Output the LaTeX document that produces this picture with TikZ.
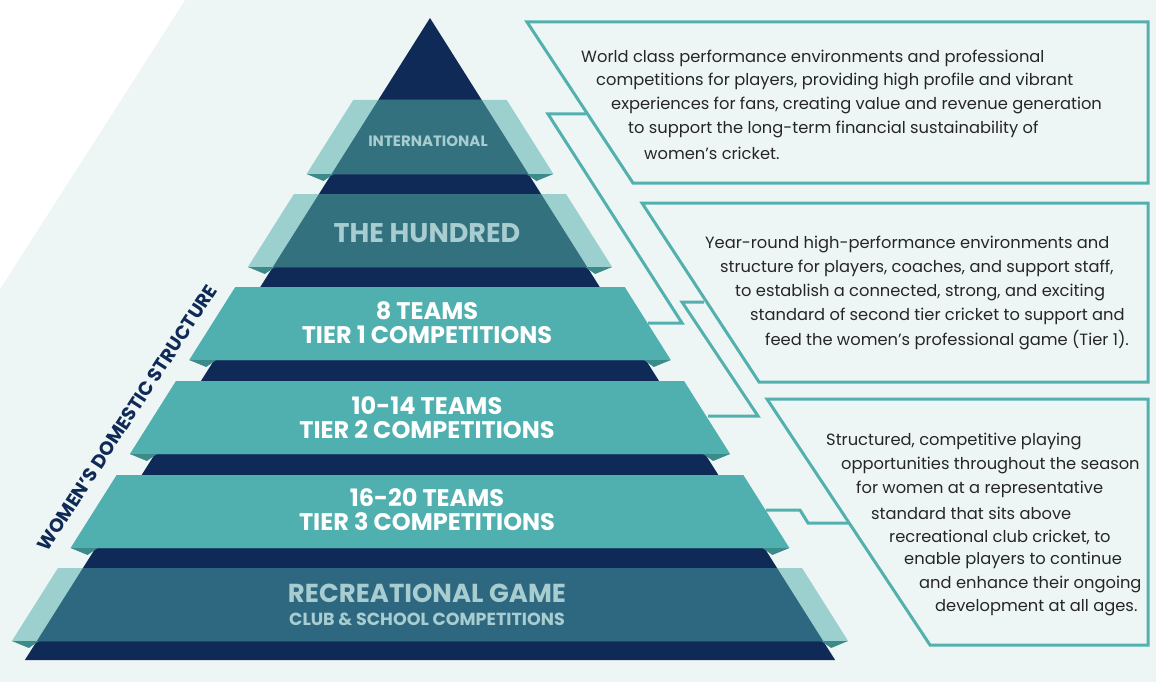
\documentclass[tikz,border=0pt]{standalone}
\usepackage{fontspec}
\setmainfont{Poppins}
\begin{document}
\begin{tikzpicture}[x=1pt,y=-1pt,
  body/.style={anchor=west,font=\fontsize{16.3}{18}\selectfont,text=black!85,inner sep=0},
  tier/.style={font=\bfseries\fontsize{24}{24}\selectfont,text=white,align=center,inner sep=0},
  pale/.style={font=\bfseries,text=paletxt,align=center,inner sep=0},
  outl/.style={draw=boxline,line width=3pt,line join=miter}]
\definecolor{bg}{HTML}{EEF6F5}
\definecolor{navy}{HTML}{0F2A57}
\definecolor{light}{HTML}{9BD0CE}
\definecolor{teal}{HTML}{50AFAF}
\definecolor{dteal}{HTML}{33717F}
\definecolor{rteal}{HTML}{2E6780}
\definecolor{fold}{HTML}{3D8A8A}
\definecolor{boxline}{HTML}{52B0AF}
\definecolor{paletxt}{HTML}{A8CDD0}
\useasboundingbox (0,0) rectangle (1156,682);
\fill[bg] (0,0) rectangle (1156,682);
\fill[white] (0,0) -- (185,0) -- (0,289) -- cycle;
% pyramid
\fill[navy] (430,18) -- ({430+0.631*642},660) -- ({430-0.631*642},660) -- cycle;
\newcommand\myband[4]{% top, bottom, outer fill, inner fill
  \fill[#3] ({430-0.631*(#1-18)-25},#1) -- ({430+0.631*(#1-18)+25},#1) -- ({430+0.631*(#2-18)+25},#2) -- ({430-0.631*(#2-18)-25},#2) -- cycle;
  \fill[#4] ({430-0.631*(#1-18)},#1) -- ({430+0.631*(#1-18)},#1) -- ({430+0.631*(#2-18)},#2) -- ({430-0.631*(#2-18)},#2) -- cycle;
  \fill[fold] ({430-0.631*(#2-18)-25},#2) -- ({430-0.631*(#2-18)+2},#2) -- ({430-0.631*(#2-18)-8},#2+7) -- cycle;
  \fill[fold] ({430+0.631*(#2-18)+25},#2) -- ({430+0.631*(#2-18)-2},#2) -- ({430+0.631*(#2-18)+8},#2+7) -- cycle;
}
\myband{100}{174}{light}{dteal}
\myband{194}{267}{light}{dteal}
\myband{287}{360}{teal}{teal}
\myband{381}{454}{teal}{teal}
\myband{475}{548}{teal}{teal}
\myband{568}{641}{light}{rteal}
% pyramid labels
\node[pale,font=\bfseries\fontsize{15}{16}\selectfont] (int) at (428,141) {INTERNATIONAL};
\node[pale,font=\bfseries\fontsize{27}{28}\selectfont] (hun) at (427,233) {THE HUNDRED};
\node[tier] (t1) at (427,323) {8 TEAMS\\TIER 1 COMPETITIONS};
\node[tier] (t2) at (427,418) {10-14 TEAMS\\TIER 2 COMPETITIONS};
\node[tier] (t3) at (427,510) {16-20 TEAMS\\TIER 3 COMPETITIONS};
\node[pale,font=\bfseries\fontsize{26}{28}\selectfont] (rec) at (427,593) {RECREATIONAL GAME};
\node[pale,font=\bfseries\fontsize{17.5}{18}\selectfont] (club) at (427,619) {CLUB \& SCHOOL COMPETITIONS};
\node[rotate=57,font=\bfseries\fontsize{19}{20}\selectfont,text=navy,inner sep=0] (wds) at (127,418) {WOMEN’S DOMESTIC STRUCTURE};
% boxes
\draw[outl] (527,22) -- (1148,22) -- (1148,183) -- (633,183) -- cycle;
\draw[outl] (642,203) -- (1148,203) -- (1148,382) -- (759,382) -- cycle;
\draw[outl] (767,399) -- (1148,399) -- (1148,645) -- (930,645) -- cycle;
% connectors
\coordinate (c1a) at (648,323);
\coordinate (c1b) at (586,114);
\draw[outl] (c1a) -- (682,323) -- (548,114) -- (c1b);
\coordinate (c2a) at (708,416);
\coordinate (c2b) at (704,302);
\draw[outl] (c2a) -- (758,416) -- (682,302) -- (c2b);
\coordinate (c3a) at (766,510);
\coordinate (c3b) at (849,523);
\draw[outl] (c3a) -- (800,510) -- (808,523) -- (c3b);
% texts
\node[body] (a1) at (581,58) {World class performance environments and professional};
\node[body] (a2) at (596,81) {competitions for players, providing high profile and vibrant};
\node[body] (a3) at (611,105) {experiences for fans, creating value and revenue generation};
\node[body] (a4) at (628,129) {to support the long-term financial sustainability of};
\node[body] (a5) at (644,153) {women’s cricket.};
\node[body] (b1) at (705,244) {Year-round high-performance environments and};
\node[body] (b2) at (720,268) {structure for players, coaches, and support staff,};
\node[body] (b3) at (735,292) {to establish a connected, strong, and exciting};
\node[body] (b4) at (750,316) {standard of second tier cricket to support and};
\node[body] (b5) at (765,340) {feed the women’s professional game (Tier 1).};
\node[body] (d1) at (826,441) {Structured, competitive playing};
\node[body] (d2) at (841,465) {opportunities throughout the season};
\node[body] (d3) at (856,489) {for women at a representative};
\node[body] (d4) at (871,513) {standard that sits above};
\node[body] (d5) at (889,537) {recreational club cricket, to};
\node[body] (d6) at (904,560) {enable players to continue};
\node[body] (d7) at (919,584) {and enhance their ongoing};
\node[body] (d8) at (935,608) {development at all ages.};
\end{tikzpicture}
\end{document}
